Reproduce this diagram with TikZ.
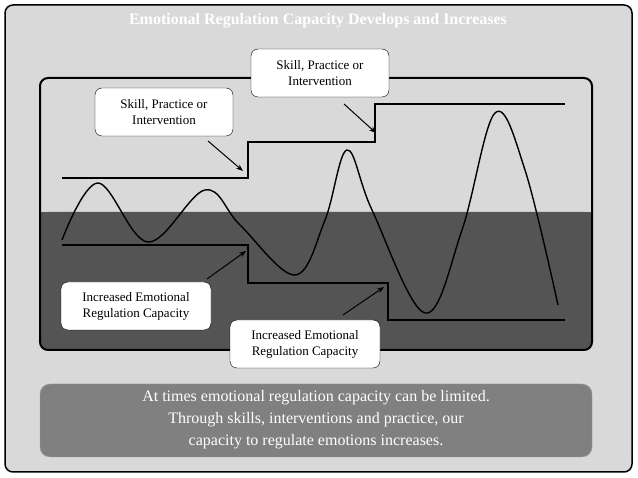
\documentclass[tikz,border=0pt]{standalone}
\usepackage{fontspec}
\setmainfont{Liberation Serif}
\usetikzlibrary{arrows.meta}
\begin{document}
\begin{tikzpicture}[x=1pt,y=-1pt,
  callout/.style={draw=black,fill=white,rounded corners=7pt,align=center,font=\fontsize{13}{16}\selectfont,inner sep=0pt,minimum width=138pt,minimum height=48pt},
  stair/.style={line width=1.4pt},
  pointer/.style={-{Stealth[length=7pt]},line width=1pt},
  whitetext/.style={text=white,font=\fontsize{16}{22}\selectfont,align=center}]
\useasboundingbox (0,0) rectangle (638,478);
\fill[white] (0,0) rectangle (638,478);
\draw[line width=1.5pt,fill=black!15,rounded corners=8pt] (5,5) rectangle (632,472);
\node[text=white,font=\fontsize{16}{18}\selectfont\bfseries] (title) at (318,21) {Emotional Regulation Capacity Develops and Increases};
\fill[black!15,rounded corners=8pt] (40,78) rectangle (592,350);
\fill[black!67,rounded corners=8pt] (40,212) rectangle (592,350);
\fill[black!67] (40,212) rectangle (592,230);
\draw[line width=2pt,rounded corners=8pt] (40,78) rectangle (592,350);
\draw[stair] (62,178) -- (248,178) -- (248,142) -- (375,142) -- (375,104) -- (565,104);
\draw[stair] (62,245) -- (248,245) -- (248,283) -- (388,283) -- (388,320) -- (565,320);
\draw[line width=1.4pt] plot[smooth,tension=0.6] coordinates {(62,240) (98,183) (148,242) (205,190) (240,225) (295,275) (325,220) (347,150) (372,210) (425,313) (462,230) (495,113) (525,170) (558,305)};
\node[callout] (c1) at (164,112) {Skill, Practice or\\Intervention};
\node[callout] (c2) at (320,73) {Skill, Practice or\\Intervention};
\node[callout,minimum width=150pt] (c3) at (136,306) {Increased Emotional\\Regulation Capacity};
\node[callout,minimum width=150pt] (c4) at (305,344) {Increased Emotional\\Regulation Capacity};
\coordinate (a1) at (243,171);
\coordinate (a2) at (376,133);
\coordinate (a3) at (246,251);
\coordinate (a4) at (384,287);
\draw[pointer] (208,141) -- (a1);
\draw[pointer] (344,104) -- (a2);
\draw[pointer] (207,279) -- (a3);
\draw[pointer] (343,315) -- (a4);
\draw[black!40,fill=black!50,rounded corners=10pt] (40,384) rectangle (592,457);
\node[whitetext] (msg) at (316,420) {At times emotional regulation capacity can be limited.\\Through skills, interventions and practice, our\\capacity to regulate emotions increases.};
\end{tikzpicture}
\end{document}
